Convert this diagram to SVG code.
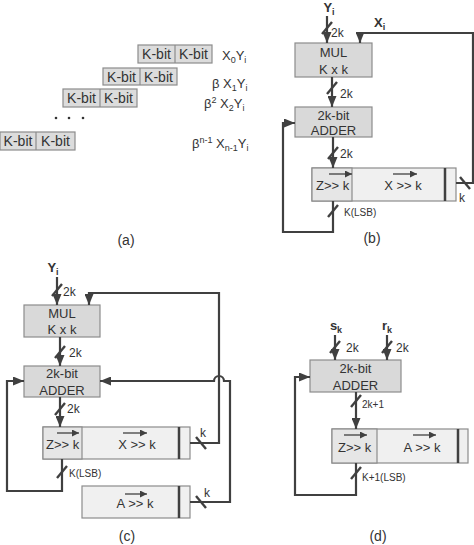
<svg xmlns="http://www.w3.org/2000/svg" width="474" height="545" viewBox="0 0 474 545">
<defs>
<marker id="ah" markerUnits="userSpaceOnUse" markerWidth="11" markerHeight="9" viewBox="0 0 11 9" refX="11" refY="4.5" orient="auto">
<path d="M0,0 L11,4.5 L0,9 Z" fill="#404040"/>
</marker>
<marker id="sa" markerUnits="userSpaceOnUse" markerWidth="7" markerHeight="7" viewBox="0 0 7 7" refX="7" refY="3.5" orient="auto">
<path d="M0,0 L7,3.5 L0,7 Z" fill="#404040"/>
</marker>
</defs>
<style>
text{font-family:"Liberation Sans",Arial,sans-serif;fill:#333;}
.t{font-size:13px;}
.kt{font-size:14px;}
.m{text-anchor:middle;}
.s{font-size:12px;}
.xs{font-size:10px;}
.b{font-weight:bold;}
.cap{font-size:14px;text-anchor:middle;}
.kb{fill:#dcdcdc;stroke:#8c8c8c;stroke-width:1.2;}
.blk{fill:#d9d9d9;stroke:#8c8c8c;stroke-width:1.2;}
.rz{fill:#e6e6e6;stroke:#8c8c8c;stroke-width:1.2;}
.rx{fill:#f0f0f0;stroke:#8c8c8c;stroke-width:1.2;}
.w{fill:none;stroke:#404040;stroke-width:2.2;}
.sl{stroke:#404040;stroke-width:2.4;}
.th{stroke:#404040;stroke-width:2.5;}
.ov{stroke:#404040;stroke-width:1.3;fill:none;}
</style>

<!-- Panel (a) -->
<g id="a-row1">
<rect class="kb" x="138" y="45" width="74" height="18"/>
<line x1="175" y1="45" x2="175" y2="63" stroke="#8c8c8c" stroke-width="1.2"/>
<text class="kt m" x="156.5" y="59">K-bit</text>
<text class="kt m" x="193.5" y="59">K-bit</text>
<text class="t" x="222" y="60">X<tspan font-size="9" dy="3">0</tspan><tspan dy="-3">Y</tspan><tspan font-size="9" dy="3">i</tspan></text>
</g>
<g id="a-row2">
<rect class="kb" x="103" y="68" width="74" height="17"/>
<line x1="140" y1="68" x2="140" y2="85" stroke="#8c8c8c" stroke-width="1.2"/>
<text class="kt m" x="121.5" y="81.5">K-bit</text>
<text class="kt m" x="158.5" y="81.5">K-bit</text>
<text class="t" x="212" y="88">β X<tspan font-size="9" dy="3">1</tspan><tspan dy="-3">Y</tspan><tspan font-size="9" dy="3">i</tspan></text>
</g>
<g id="a-row3">
<rect class="kb" x="63" y="89" width="74" height="18"/>
<line x1="100" y1="89" x2="100" y2="107" stroke="#8c8c8c" stroke-width="1.2"/>
<text class="kt m" x="81.5" y="103">K-bit</text>
<text class="kt m" x="118.5" y="103">K-bit</text>
<text class="t" x="204" y="108">β<tspan font-size="9" dy="-5">2</tspan><tspan dy="5"> X</tspan><tspan font-size="9" dy="3">2</tspan><tspan dy="-3">Y</tspan><tspan font-size="9" dy="3">i</tspan></text>
</g>
<g id="a-dots" fill="#333">
<circle cx="56" cy="118" r="1.3"/>
<circle cx="69" cy="118" r="1.3"/>
<circle cx="83" cy="118" r="1.3"/>
</g>
<g id="a-row4">
<rect class="kb" x="0" y="132" width="75" height="18"/>
<line x1="36" y1="132" x2="36" y2="150" stroke="#8c8c8c" stroke-width="1.2"/>
<text class="kt m" x="18" y="146">K-bit</text>
<text class="kt m" x="55.5" y="146">K-bit</text>
<text class="t" x="192" y="148">β<tspan font-size="9" dy="-5">n-1</tspan><tspan dy="5"> X</tspan><tspan font-size="9" dy="3">n-1</tspan><tspan dy="-3">Y</tspan><tspan font-size="9" dy="3">i</tspan></text>
</g>
<text class="cap" x="126" y="245">(a)</text>

<!-- Panel (b) -->
<g id="b-mul">
<rect class="blk" x="295" y="43" width="77" height="34"/>
<text class="t m" x="333.5" y="57">MUL</text>
<text class="t m" x="333.5" y="74">K x k</text>
</g>
<g id="b-adder">
<rect class="blk" x="295" y="107" width="77" height="30"/>
<text class="t m" x="333.5" y="120">2k-bit</text>
<text class="t m" x="333.5" y="135">ADDER</text>
</g>
<g id="b-reg">
<rect class="rx" x="312" y="168" width="144" height="33"/>
<rect class="rz" x="312" y="168" width="40" height="33"/>
<line class="th" x1="445" y1="168" x2="445" y2="201"/>
<text class="t" x="316" y="190">Z&gt;&gt; k</text>
<line class="ov" x1="329" y1="174" x2="352" y2="174" marker-end="url(#sa)"/>
<text class="t m" x="403" y="190">X &gt;&gt; k</text>
<line class="ov" x1="393" y1="174" x2="417" y2="174" marker-end="url(#sa)"/>
</g>
<g id="b-labels">
<text class="t b m" x="329" y="12">Y<tspan font-size="9" dy="3">i</tspan></text>
<text class="t b" x="374" y="27">X<tspan font-size="9" dy="3">i</tspan></text>
<text class="cap" x="372" y="243">(b)</text>
</g>

<!-- Panel (c) -->
<g id="c-mul">
<rect class="blk" x="24" y="305" width="76" height="32"/>
<text class="t m" x="62" y="318">MUL</text>
<text class="t m" x="62" y="334">K x k</text>
</g>
<g id="c-adder">
<rect class="blk" x="24" y="366" width="76" height="31"/>
<text class="t m" x="62" y="378">2k-bit</text>
<text class="t m" x="62" y="395">ADDER</text>
</g>
<g id="c-reg1">
<rect class="rx" x="43" y="427" width="147" height="32"/>
<rect class="rz" x="43" y="427" width="39" height="32"/>
<line class="th" x1="179" y1="427" x2="179" y2="459"/>
<text class="t" x="46" y="449">Z&gt;&gt; k</text>
<line class="ov" x1="57" y1="433" x2="79" y2="433" marker-end="url(#sa)"/>
<text class="t m" x="137" y="449">X &gt;&gt; k</text>
<line class="ov" x1="123" y1="433" x2="147" y2="433" marker-end="url(#sa)"/>
</g>
<g id="c-reg2">
<rect class="rx" x="82" y="486" width="108" height="32"/>
<line class="th" x1="179" y1="486" x2="179" y2="518"/>
<text class="t m" x="135" y="508">A &gt;&gt; k</text>
<line class="ov" x1="125" y1="494" x2="147" y2="494" marker-end="url(#sa)"/>
</g>
<g id="c-labels">
<text class="t b m" x="53" y="272">Y<tspan font-size="9" dy="3">i</tspan></text>
<text class="cap" x="127" y="541">(c)</text>
</g>

<!-- Panel (d) -->
<g id="d-adder">
<rect class="blk" x="310" y="360" width="91" height="32"/>
<text class="t m" x="355.5" y="373">2k-bit</text>
<text class="t m" x="355.5" y="390">ADDER</text>
</g>
<g id="d-reg">
<rect class="rx" x="332" y="429" width="136" height="34"/>
<rect class="rz" x="332" y="429" width="45" height="34"/>
<line class="th" x1="458" y1="429" x2="458" y2="463"/>
<text class="t" x="338" y="452">Z&gt;&gt; k</text>
<line class="ov" x1="344" y1="435" x2="367" y2="435" marker-end="url(#sa)"/>
<text class="t m" x="422" y="452">A &gt;&gt; k</text>
<line class="ov" x1="413" y1="435" x2="436" y2="435" marker-end="url(#sa)"/>
</g>
<g id="d-labels">
<text class="t b m" x="336" y="330">s<tspan font-size="9" dy="3">k</tspan></text>
<text class="t b m" x="387" y="330">r<tspan font-size="9" dy="3">k</tspan></text>
<text class="cap" x="378" y="541">(d)</text>
</g>

<!-- Connectors -->
<g id="connectors">
<!-- (b) -->
<path class="w" d="M327,16 V43" marker-end="url(#ah)"/>
<path class="w" d="M456,183 H473 V33 H360 V43" marker-end="url(#ah)"/>
<path class="w" d="M332,77 V107" marker-end="url(#ah)"/>
<path class="w" d="M333,137 V168" marker-end="url(#ah)"/>
<path class="w" d="M333,201 V232 H283 V123 H295" marker-end="url(#ah)"/>
<line class="sl" x1="322" y1="34" x2="332" y2="22"/>
<line class="sl" x1="327" y1="94" x2="337" y2="82"/>
<line class="sl" x1="328" y1="159" x2="338" y2="147"/>
<line class="sl" x1="328" y1="217" x2="338" y2="205"/>
<line class="sl" x1="460" y1="177" x2="470" y2="189"/>
<text class="s" x="331" y="37">2k</text>
<text class="s" x="340" y="98">2k</text>
<text class="s" x="340" y="158">2k</text>
<text class="xs" x="344" y="216">K(LSB)</text>
<text class="s" x="459" y="202">k</text>
<!-- (c) -->
<path class="w" d="M57,277 V305" marker-end="url(#ah)"/>
<path class="w" d="M190,443 H219 V293 H89 V305" marker-end="url(#ah)"/>
<path class="w" d="M60,337 V366" marker-end="url(#ah)"/>
<path class="w" d="M190,502 H230 V381 H224 A5,5 0 0 0 214,381 H100" marker-end="url(#ah)"/>
<path class="w" d="M60,397 V427" marker-end="url(#ah)"/>
<path class="w" d="M62,459 V491 H7 V381 H24" marker-end="url(#ah)"/>
<line class="sl" x1="52" y1="296" x2="62" y2="284"/>
<line class="sl" x1="55" y1="358" x2="65" y2="346"/>
<line class="sl" x1="55" y1="415" x2="65" y2="403"/>
<line class="sl" x1="57" y1="478" x2="67" y2="466"/>
<line class="sl" x1="196" y1="437" x2="206" y2="449"/>
<line class="sl" x1="196" y1="496" x2="206" y2="508"/>
<text class="s" x="63" y="296">2k</text>
<text class="s" x="69" y="357">2k</text>
<text class="s" x="67" y="413">2k</text>
<text class="xs" x="69" y="477">K(LSB)</text>
<text class="s" x="200" y="437">k</text>
<text class="s" x="204" y="497">k</text>
<!-- (d) -->
<path class="w" d="M335,335 V360" marker-end="url(#ah)"/>
<path class="w" d="M387,335 V360" marker-end="url(#ah)"/>
<path class="w" d="M356,392 V429" marker-end="url(#ah)"/>
<path class="w" d="M356,463 V495 H295 V377 H310" marker-end="url(#ah)"/>
<line class="sl" x1="330" y1="353" x2="340" y2="341"/>
<line class="sl" x1="382" y1="353" x2="392" y2="341"/>
<line class="sl" x1="351" y1="407" x2="361" y2="395"/>
<line class="sl" x1="351" y1="479" x2="361" y2="467"/>
<text class="s" x="346" y="352">2k</text>
<text class="s" x="396" y="352">2k</text>
<text class="xs" x="362" y="408">2k+1</text>
<text class="xs" x="362" y="481">K+1(LSB)</text>
</g>
</svg>
